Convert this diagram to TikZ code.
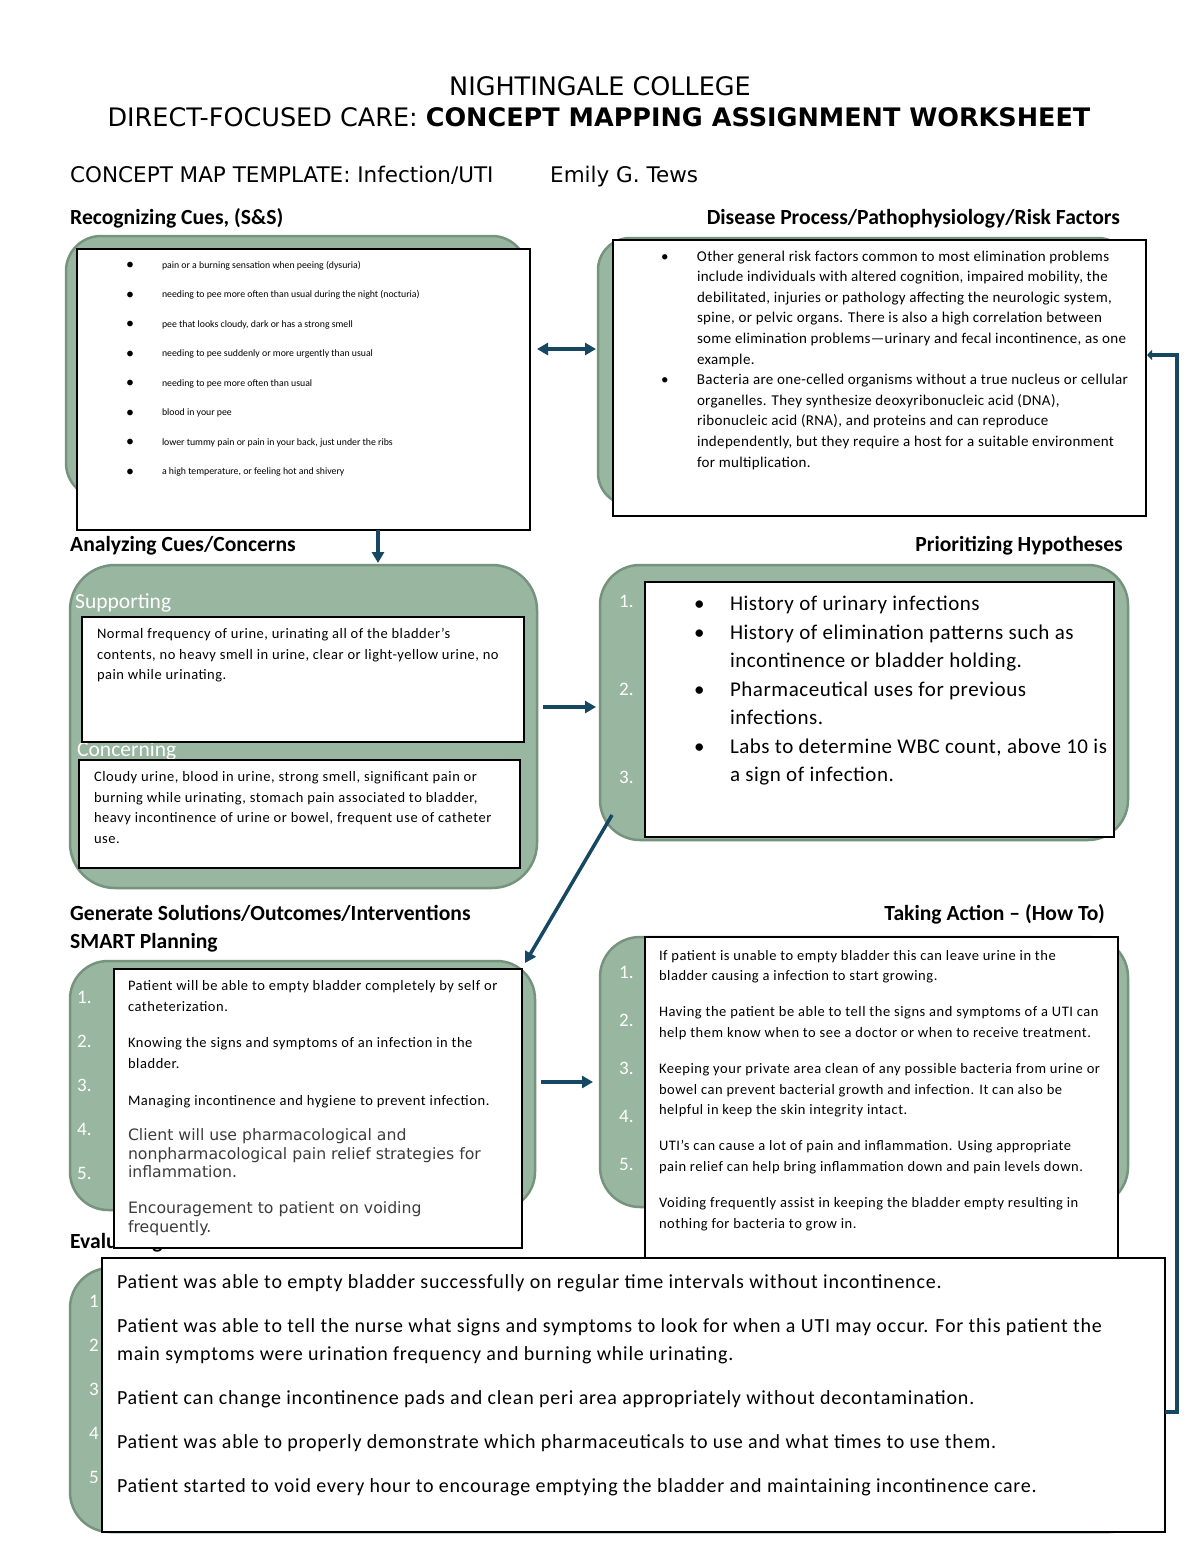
\documentclass[tikz,border=0pt]{standalone}
\usepackage{fontspec}
\setmainfont{Carlito}
\newfontfamily\dv{DejaVu Sans}
\usetikzlibrary{arrows.meta,calc}
\definecolor{sage}{RGB}{153,182,161}
\definecolor{sagedark}{RGB}{117,147,125}
\definecolor{navy}{RGB}{23,72,99}
\definecolor{darktxt}{RGB}{60,60,60}
\newcommand\myfs[2]{\fontsize{#1}{#2}\selectfont}
\newcommand\myls[1]{\addfontfeatures{LetterSpace=#1}}
\newcommand\bul[1]{\makebox[#1][l]{\textbullet}}
\newcommand\bigbul{\makebox[36pt][l]{\raisebox{-1.5pt}{\fontsize{16}{16}\selectfont\textbullet}}}
\newcommand\mylines[1]{\begin{tabular}[t]{@{}l@{}}#1\end{tabular}}
\begin{document}
\begin{tikzpicture}[x=1pt,y=-1pt,
  gbox/.style={draw=sagedark, line width=2.5pt, fill=sage, inner sep=0pt, outer sep=0pt},
  wbox/.style={draw=black, line width=1.3pt, fill=white, inner sep=0pt, outer sep=0pt},
  txt/.style={anchor=base west, inner sep=0pt, outer sep=0pt},
  num/.style={anchor=base west, inner sep=0pt, text=white, font=\myfs{19}{19}},
  head/.style={inner sep=0pt, font=\bfseries\myfs{21.6}{21.6}},
  arr/.style={draw=navy, line width=3.5pt, -{Triangle[length=11pt,width=12pt]}},
  arrtwo/.style={draw=navy, line width=3.5pt, {Triangle[length=11pt,width=12pt]}-{Triangle[length=11pt,width=12pt]}},
  arrthree/.style={draw=navy, line width=4pt, -{Triangle[length=5pt,width=10pt]}}
]
\useasboundingbox (0,0) rectangle (1200,1553);
\fill[white] (0,0) rectangle (1200,1553);

% header
\node[anchor=base, inner sep=0pt, font=\dv\myfs{25.5}{25.5}] (t1) at (600,95) {NIGHTINGALE COLLEGE};
\node[anchor=base, inner sep=0pt, font=\dv\myfs{25.5}{25.5}] (t2) at (599,126) {DIRECT-FOCUSED CARE: \textbf{CONCEPT MAPPING ASSIGNMENT WORKSHEET}};
\node[anchor=base west, inner sep=0pt, font=\dv\myfs{21.5}{21.5}] (tmpl) at (70,182) {CONCEPT MAP TEMPLATE: Infection/UTI};
\node[anchor=base west, inner sep=0pt, font=\dv\myfs{21.5}{21.5}] (auth) at (550,182) {Emily G. Tews};

% headings
\node[head, anchor=base west] (h1) at (70,224) {Recognizing Cues, (S\&S)};
\node[head, anchor=base east] (h2) at (1120,224) {Disease Process/Pathophysiology/Risk Factors};
\node[head, anchor=base west] (h3) at (70,551) {Analyzing Cues/Concerns};
\node[head, anchor=base east] (h4) at (1123,551) {Prioritizing Hypotheses};
\node[head, anchor=base west, font=\bfseries\myfs{21.6}{28}] (h5) at (70,920) {\mylines{Generate Solutions/Outcomes/Interventions\\SMART Planning}};
\node[head, anchor=base east] (h6) at (1105,920) {Taking Action – (How To)};
\node[head, anchor=base west] (h7) at (70,1248) {Evaluating};

% green boxes
\node[gbox, rounded corners=35pt, minimum width=461pt, minimum height=262pt] (g1) at (296.5,367) {};
\node[gbox, rounded corners=32pt, minimum width=532pt, minimum height=267pt] (g2) at (864,371.5) {};
\node[gbox, rounded corners=45pt, minimum width=467pt, minimum height=323pt] (g3) at (303.5,726.5) {};
\node[gbox, rounded corners=40pt, minimum width=528pt, minimum height=275pt] (g4) at (864,702.5) {};
\node[gbox, rounded corners=38pt, minimum width=465pt, minimum height=249pt] (g5) at (302.5,1085.5) {};
\node[gbox, rounded corners=40pt, minimum width=528pt, minimum height=270pt] (g6) at (864,1072) {};
\node[gbox, rounded corners=40pt, minimum width=1080pt, minimum height=264pt] (g7) at (610,1400) {};

% labels on green
\node[anchor=base west, inner sep=0pt, text=white, font=\myfs{21.5}{21.5}] (lsup) at (75,608) {Supporting};
\node[anchor=base west, inner sep=0pt, text=white, font=\myfs{21.5}{21.5}] (lcon) at (77,756) {Concerning};
\node[num] (p1) at (619,607) {1.};
\node[num] (p2) at (619,695) {2.};
\node[num] (p3) at (619,783) {3.};
\node[num] (s1) at (77,1003) {1.};
\node[num] (s2) at (77,1047) {2.};
\node[num] (s3) at (77,1091) {3.};
\node[num] (s4) at (77,1135) {4.};
\node[num] (s5) at (77,1179) {5.};
\node[num] (a1) at (619,978) {1.};
\node[num] (a2) at (619,1026) {2.};
\node[num] (a3) at (619,1074) {3.};
\node[num] (a4) at (619,1122) {4.};
\node[num] (a5) at (619,1170) {5.};
\node[num] (e1) at (89,1307) {1};
\node[num] (e2) at (89,1351) {2};
\node[num] (e3) at (89,1395) {3};
\node[num] (e4) at (89,1439) {4};
\node[num] (e5) at (89,1483) {5};

% white boxes
\node[wbox, minimum width=453pt, minimum height=281pt] (b1) at (303.5,389.5) {};
\node[wbox, minimum width=533pt, minimum height=276pt] (b2) at (879.5,378) {};
\node[wbox, minimum width=442pt, minimum height=125pt] (bs) at (303,679.5) {};
\node[wbox, minimum width=441pt, minimum height=108pt] (bc) at (299.5,814) {};
\node[wbox, minimum width=469pt, minimum height=255pt] (bp) at (879.5,709.5) {};
\node[wbox, minimum width=408pt, minimum height=279pt] (bg) at (318,1108.5) {};
\node[wbox, minimum width=473pt, minimum height=321pt] (bt) at (881.5,1097.5) {};
\node[wbox, minimum width=1063pt, minimum height=274pt] (be) at (633.5,1395) {};

% texts
\node[txt, font=\myfs{9.8}{29.57}] (r1) at (126,268) {\mylines{%
\bigbul pain or a burning sensation when peeing (dysuria)\\
\bigbul needing to pee more often than usual during the night (nocturia)\\
\bigbul pee that looks cloudy, dark or has a strong smell\\
\bigbul needing to pee suddenly or more urgently than usual\\
\bigbul needing to pee more often than usual\\
\bigbul blood in your pee\\
\bigbul lower tummy pain or pain in your back, just under the ribs\\
\bigbul a high temperature, or feeling hot and shivery}};

\node[txt, font=\myfs{15}{20.6}\myls{2.3}] (d1) at (661,261) {\mylines{%
\bul{36pt}Other general risk factors common to most elimination problems\\
\hspace*{36pt}include individuals with altered cognition, impaired mobility, the\\
\hspace*{36pt}debilitated, injuries or pathology affecting the neurologic system,\\
\hspace*{36pt}spine, or pelvic organs. There is also a high correlation between\\
\hspace*{36pt}some elimination problems---urinary and fecal incontinence, as one\\
\hspace*{36pt}example.\\
\bul{36pt}Bacteria are one-celled organisms without a true nucleus or cellular\\
\hspace*{36pt}organelles. They synthesize deoxyribonucleic acid (DNA),\\
\hspace*{36pt}ribonucleic acid (RNA), and proteins and can reproduce\\
\hspace*{36pt}independently, but they require a host for a suitable environment\\
\hspace*{36pt}for multiplication.}};

\node[txt, font=\myfs{14.5}{20.5}\myls{3.6}] (sup) at (97,638.5) {\mylines{%
Normal frequency of urine, urinating all of the bladder's\\
contents, no heavy smell in urine, clear or light-yellow urine, no\\
pain while urinating.}};

\node[txt, font=\myfs{14.5}{20.7}\myls{3.9}] (con) at (94,781.5) {\mylines{%
Cloudy urine, blood in urine, strong smell, significant pain or\\
burning while urinating, stomach pain associated to bladder,\\
heavy incontinence of urine or bowel, frequent use of catheter\\
use.}};

\node[txt, font=\myfs{21}{28.5}\myls{2.6}] (pri) at (694,610.5) {\mylines{%
\bul{36pt}History of urinary infections\\
\bul{36pt}History of elimination patterns such as\\
\hspace*{36pt}incontinence or bladder holding.\\
\bul{36pt}Pharmaceutical uses for previous\\
\hspace*{36pt}infections.\\
\bul{36pt}Labs to determine WBC count, above 10 is\\
\hspace*{36pt}a sign of infection.}};

\node[txt, font=\myfs{14.5}{21}\myls{3.9}] (gen) at (128,990.5) {\mylines{%
Patient will be able to empty bladder completely by self or\\
catheterization.\\[15pt]
Knowing the signs and symptoms of an infection in the\\
bladder.\\[16pt]
Managing incontinence and hygiene to prevent infection.}};

\node[txt, font=\dv\myfs{15.7}{18.5}, text=darktxt] (gen2) at (128,1140.5) {\mylines{%
Client will use pharmacological and\\
nonpharmacological pain relief strategies for\\
inflammation.\\[17.5pt]
Encouragement to patient on voiding\\
frequently.}};

\node[txt, font=\myfs{14.5}{20.7}\myls{3.8}] (act) at (659,960) {\mylines{%
If patient is unable to empty bladder this can leave urine in the\\
bladder causing a infection to start growing.\\[15.3pt]
Having the patient be able to tell the signs and symptoms of a UTI can\\
help them know when to see a doctor or when to receive treatment.\\[15.3pt]
Keeping your private area clean of any possible bacteria from urine or\\
bowel can prevent bacterial growth and infection. It can also be\\
helpful in keep the skin integrity intact.\\[15.3pt]
UTI's can cause a lot of pain and inflammation. Using appropriate\\
pain relief can help bring inflammation down and pain levels down.\\[15.3pt]
Voiding frequently assist in keeping the bladder empty resulting in\\
nothing for bacteria to grow in.}};

\node[txt, font=\myfs{20}{28}\myls{3.9}] (ev) at (117,1288.5) {\mylines{%
Patient was able to empty bladder successfully on regular time intervals without incontinence.\\[16pt]
Patient was able to tell the nurse what signs and symptoms to look for when a UTI may occur. For this patient the\\
main symptoms were urination frequency and burning while urinating.\\[16pt]
Patient can change incontinence pads and clean peri area appropriately without decontamination.\\[16pt]
Patient was able to properly demonstrate which pharmaceuticals to use and what times to use them.\\[16pt]
Patient started to void every hour to encourage emptying the bladder and maintaining incontinence care.}};

% connectors
\draw[arrtwo] ([shift={(7,-40.5)}]b1.east) -- ([shift={(-2,-22.5)}]g2.west);
\draw[arr] ([shift={(74.5,0)}]b1.south) -- ([shift={(74.5,-2)}]g3.north);
\draw[arr] ([shift={(6,-19.5)}]g3.east) -- ([shift={(-4,4.5)}]g4.west);
\draw[arr] ([shift={(12,-25)}]g4.south west) -- ([shift={(-10,2)}]g5.north east);
\draw[arr] ([shift={(6,-3.5)}]g5.east) -- ([shift={(-7,10)}]g6.west);
\draw[arrthree] ([shift={(0,17)}]be.east) -- ++(12,0) |- ([shift={(1,-23)}]b2.east);
\end{tikzpicture}
\end{document}
